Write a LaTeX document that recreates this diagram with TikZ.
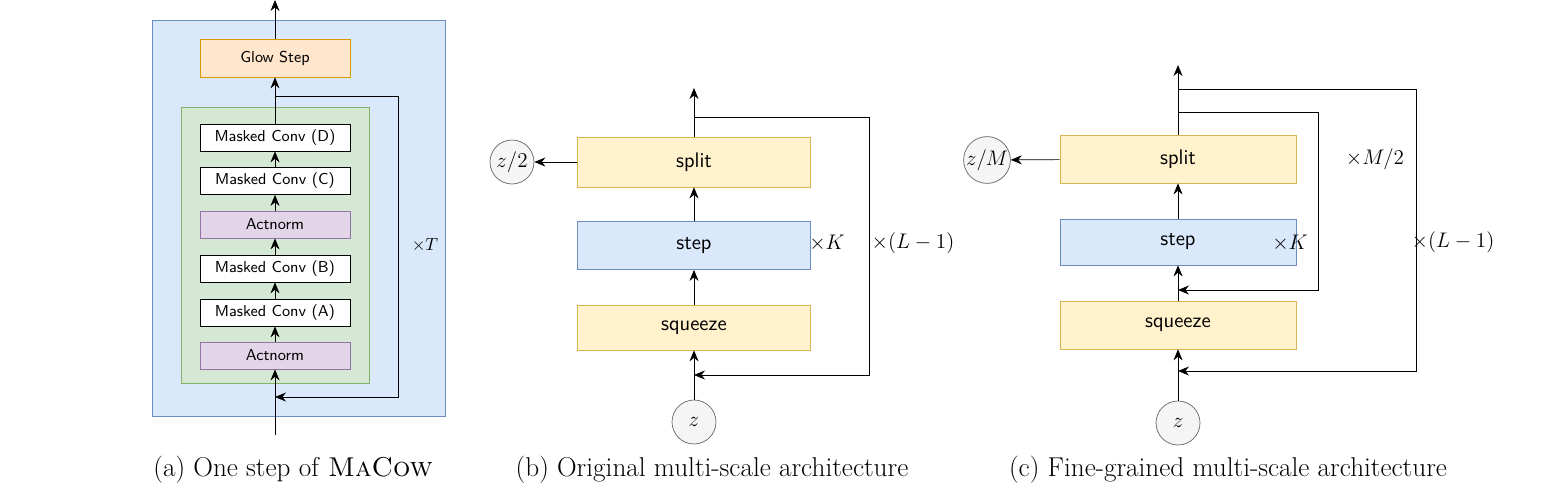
\documentclass[tikz,border=0pt]{standalone}
\usepackage{amsmath}
\usepackage{tikz}
\usetikzlibrary{arrows.meta,positioning}
\definecolor{bluefill}{HTML}{DAE8FC}
\definecolor{blueline}{HTML}{6C8EBF}
\definecolor{greenfill}{HTML}{D5E8D4}
\definecolor{greenline}{HTML}{82B366}
\definecolor{orangefill}{HTML}{FFE6CC}
\definecolor{orangeline}{HTML}{D79B00}
\definecolor{purplefill}{HTML}{E1D5E7}
\definecolor{purpleline}{HTML}{9673A6}
\definecolor{yellowfill}{HTML}{FFF2CC}
\definecolor{yellowline}{HTML}{D6B656}
\tikzset{
    small box/.style={draw,minimum width=3cm,minimum height=0.54cm,inner sep=0pt,font=\sffamily\small},
    big box/.style={draw,minimum width=4.66cm,minimum height=0.96cm,inner sep=0pt,font=\sffamily\large},
    var/.style={draw=black!60,fill=black!4,circle,minimum size=0.88cm,inner sep=0pt,font=\large},
    flow/.style={-{Stealth[length=2.2mm,width=1.8mm]},thin},
    caption/.style={font=\fontsize{15.5}{18}\selectfont}
}
\begin{document}
\begin{tikzpicture}[x=0.02cm,y=-0.02cm]
    \useasboundingbox (0,0) rectangle (1550,490);
    % (a)
    \draw[fill=bluefill,draw=blueline] (152,20) rectangle (445,416);
    \draw[fill=greenfill,draw=greenline] (181,107) rectangle (369,383);
    \node[small box,fill=orangefill,draw=orangeline,minimum height=0.76cm] (glow) at (275,58) {Glow Step};
    \node[small box,fill=white] (convD) at (275,137.5) {Masked Conv (D)};
    \node[small box,fill=white] (convC) at (275,181) {Masked Conv (C)};
    \node[small box,fill=purplefill,draw=purpleline] (act2) at (275,224.5) {Actnorm};
    \node[small box,fill=white] (convB) at (275,268.5) {Masked Conv (B)};
    \node[small box,fill=white] (convA) at (275,312.5) {Masked Conv (A)};
    \node[small box,fill=purplefill,draw=purpleline] (act1) at (275,355.5) {Actnorm};
    \coordinate (ain) at (275,435);
    \coordinate (aout) at (275,0);
    \coordinate (aback) at (275,397);
    \coordinate (asplit) at (275,96);
    \draw[flow] (ain) -- (act1);
    \draw[flow] (act1) -- (convA);
    \draw[flow] (convA) -- (convB);
    \draw[flow] (convB) -- (act2);
    \draw[flow] (act2) -- (convC);
    \draw[flow] (convC) -- (convD);
    \draw[flow] (convD) -- (glow);
    \draw[flow] (glow) -- (aout);
    \draw[flow] (asplit) -- (398,96) -- (398,397) -- (aback);
    \node at (425,245) {$\times T$};
    \node[caption] at (293,470) {(a) One step of \textsc{MaCow}};
    % (b)
    \node[big box,fill=yellowfill,draw=yellowline,minimum height=1cm] (splitb) at (694,162) {split};
    \node[big box,fill=bluefill,draw=blueline] (stepb) at (694,245.5) {step};
    \node[big box,fill=yellowfill,draw=yellowline,minimum height=0.9cm] (squeezeb) at (694,327.5) {squeeze};
    \node[var] (zb) at (694,422) {$z$};
    \node[var] (zhalf) at (512,162) {$z/2$};
    \coordinate (bout) at (694,88);
    \coordinate (bback) at (694,375);
    \coordinate (bsplit) at (694,117);
    \draw[flow] (zb) -- (squeezeb);
    \draw[flow] (squeezeb) -- (stepb);
    \draw[flow] (stepb) -- (splitb);
    \draw[flow] (splitb) -- (bout);
    \draw[flow] (splitb) -- (zhalf);
    \draw[flow] (bsplit) -- (869,117) -- (869,375) -- (bback);
    \node at (827,243) {\large$\times K$};
    \node at (913,243) {\large$\times (L-1)$};
    \node[caption] at (712,470) {(b) Original multi-scale architecture};
    % (c)
    \node[big box,fill=yellowfill,draw=yellowline,minimum width=4.72cm] (splitc) at (1178,159) {split};
    \node[big box,fill=bluefill,draw=blueline,minimum width=4.72cm,minimum height=0.92cm] (stepc) at (1178,242) {step};
    \node[big box,fill=yellowfill,draw=yellowline,minimum width=4.72cm] (squeezec) at (1178,325) {squeeze};
    \node[var] (zc) at (1178,423) {$z$};
    \node[var] (zm) at (987,160) {$z/M$};
    \coordinate (cout) at (1178,65);
    \coordinate (cinner) at (1178,290);
    \coordinate (couter) at (1178,371);
    \draw[flow] (zc) -- (squeezec);
    \draw[flow] (squeezec) -- (stepc);
    \draw[flow] (stepc) -- (splitc);
    \draw[flow] (splitc) -- (cout);
    \draw[flow] (splitc) -- (zm);
    \draw[flow] (1178,112) -- (1318,112) -- (1318,290) -- (cinner);
    \draw[flow] (1178,89) -- (1416,89) -- (1416,371) -- (couter);
    \node at (1375,159) {\large$\times M/2$};
    \node at (1290,243) {\large$\times K$};
    \node at (1453,242) {\large$\times (L-1)$};
    \node[caption] at (1228,470) {(c) Fine-grained multi-scale architecture};
\end{tikzpicture}
\end{document}
